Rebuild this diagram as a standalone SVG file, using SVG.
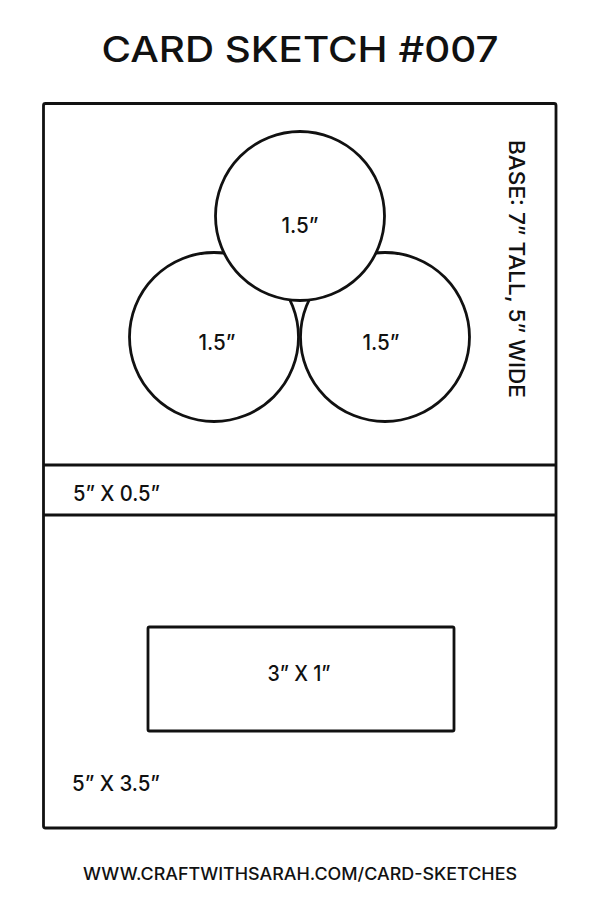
<svg xmlns="http://www.w3.org/2000/svg" width="600" height="900" viewBox="0 0 600 900">
<style>
.ln{fill:none;stroke:#111;stroke-width:2.8;stroke-linejoin:round}
.cir{fill:#fff;stroke:#111;stroke-width:2.8}
.t{font-family:Inter,"Liberation Sans","DejaVu Sans",sans-serif;font-weight:500;fill:#111}
</style>
<rect width="600" height="900" fill="#fff"/>
<text class="t" x="300" y="62" text-anchor="middle" font-size="35" textLength="397" lengthAdjust="spacingAndGlyphs">CARD SKETCH #007</text>
<g id="card">
<rect class="ln" x="43.5" y="103.5" width="512.5" height="724.5" rx="2"/>
</g>
<g id="dividers">
<line class="ln" x1="43.5" y1="465" x2="556" y2="465"/>
<line class="ln" x1="43.5" y1="515" x2="556" y2="515"/>
</g>
<g id="circle-left">
<circle class="cir" cx="214" cy="337" r="84.5"/>
<text class="t" x="217" y="350" text-anchor="middle" font-size="21" textLength="37" lengthAdjust="spacingAndGlyphs">1.5”</text>
</g>
<g id="circle-right">
<circle class="cir" cx="385" cy="337" r="84.5"/>
<text class="t" x="381" y="350" text-anchor="middle" font-size="21" textLength="37" lengthAdjust="spacingAndGlyphs">1.5”</text>
</g>
<g id="circle-top">
<circle class="cir" cx="300" cy="216" r="84.5"/>
<text class="t" x="300" y="233" text-anchor="middle" font-size="21" textLength="37" lengthAdjust="spacingAndGlyphs">1.5”</text>
</g>
<g id="base-label">
<text class="t" transform="translate(509,269) rotate(90)" x="0" y="0" text-anchor="middle" font-size="22" textLength="258" lengthAdjust="spacingAndGlyphs">BASE: 7” TALL, 5” WIDE</text>
</g>
<g id="strip-label">
<text class="t" x="73" y="501" font-size="21" textLength="87" lengthAdjust="spacingAndGlyphs">5” X 0.5”</text>
</g>
<g id="panel">
<rect class="ln" x="148" y="627" width="306" height="104" rx="1.5"/>
<text class="t" x="299" y="681" text-anchor="middle" font-size="21" textLength="63" lengthAdjust="spacingAndGlyphs">3” X 1”</text>
</g>
<g id="bottom-label">
<text class="t" x="72" y="791" font-size="21" textLength="88" lengthAdjust="spacingAndGlyphs">5” X 3.5”</text>
</g>
<text class="t" x="300" y="880" text-anchor="middle" font-size="17" textLength="434" lengthAdjust="spacingAndGlyphs">WWW.CRAFTWITHSARAH.COM/CARD-SKETCHES</text>
</svg>
